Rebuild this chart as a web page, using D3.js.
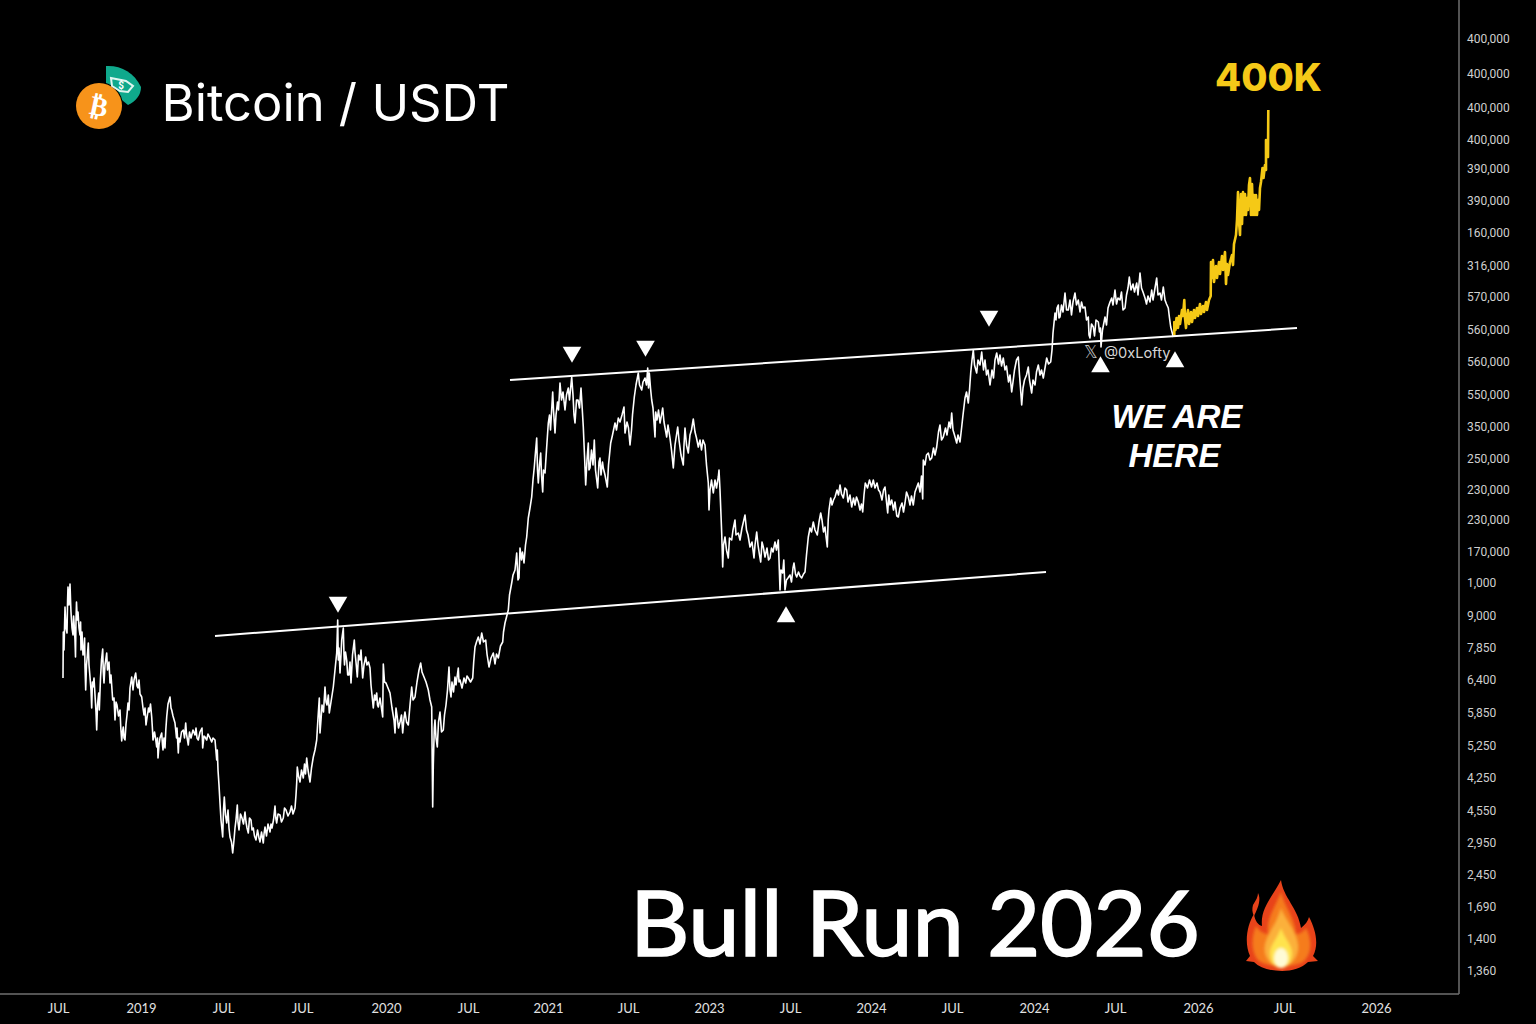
<!DOCTYPE html>
<html>
<head>
<meta charset="utf-8">
<script src="https://cdn.jsdelivr.net/npm/d3@7/dist/d3.min.js"></script>
<style>
html,body{margin:0;padding:0;background:#000;overflow:hidden}
svg{display:block}
</style>
</head>
<body>
<svg id="chart" width="1536" height="1024"></svg>
<script>
// Axis labels, exactly as printed on the picture
const yLabels = ["400,000","400,000","400,000","400,000","390,000","390,000","160,000","316,000","570,000","560,000","560,000","550,000","350,000","250,000","230,000","230,000","170,000","1,000","9,000","7,850","6,400","5,850","5,250","4,250","4,550","2,950","2,450","1,690","1,400","1,360"];
// Position of each label on the log-price index (0-1000)
const yLevels = [961,926,892.5,860,831,799,767,734,703,670.5,638,605.5,573,541,510,480,448,417,384.5,352,320,287,254.5,222,189.5,157.5,125,93,61,29];
const xLabels = ["JUL","2019","JUL","JUL","2020","JUL","2021","JUL","2023","JUL","2024","JUL","2024","JUL","2026","JUL","2026"];
// Position of each label in bars from the start of the time axis
const xBars = [8,91,173,252,336,418,498,578,659,740,821,902,984,1065,1148,1234,1326];

// Price path: [bar, log-price index]
const price2018 = [[13,322],[13.3,368],[14,350],[15,393],[16,372],[17,367],[17.6,400],[18,413],[19,395],[20,416],[20.6,398],[21,388],[22,372],[23,365],[23.6,384],[24,378],[25,360],[25.5,343],[26,380],[26.5,398],[27.3,380],[28,388],[29,372],[30,365],[30.6,378],[31,350],[32,368],[33,345],[34,350],[34.6,362],[35,333],[35.7,310],[36.5,335],[37.4,345],[38.3,357],[39,335],[40,323],[41,310],[41.7,292],[42.4,318],[43,313],[44,322],[45,305],[46,288],[46.7,270],[47.5,295],[48.7,307],[49.3,290],[50.5,322],[51.5,340],[52.7,351],[53.3,328],[54,317],[55,335],[56.7,347],[57.5,330],[59,338],[60,317],[61,325],[62.7,300],[64,302],[65,280],[66,298],[67,295],[68.5,284],[70,290],[70.8,272],[71.7,259],[72.5,268],[73.3,273],[74,262],[75,260],[76,276],[77,285],[78,297],[79,290],[80,312],[81.7,323],[83,310],[84,320],[85.7,327],[87,314],[88,312],[89,320],[90,306],[91.7,303],[93,292],[94,285],[95,292],[96,275],[97,282],[98.5,292],[99.3,288],[100.5,296],[101.7,283],[102.5,270],[103,260],[104.5,268],[105.5,262],[106.7,253],[107.5,262],[108,242],[109,255],[110,262],[111.7,267],[112.5,255],[113,250],[114,262],[115,252],[115.8,270],[116.7,283],[118,296],[120,303],[121,292],[121.7,290],[123,284],[125,277],[126.5,262],[127,272],[128.3,247],[129,262],[130,258],[131.5,268],[133.3,270],[134.5,262],[135.7,277],[136.5,266],[138.3,255],[139.5,268],[141,262],[143,270],[145,265],[146,272],[147,262],[148.3,260],[150,268],[152,272],[152.7,252],[154,264],[155,263],[156.7,260],[158,266],[160,262],[161.7,258],[163,262],[165,260]];
const price2019 = [[166.7,240],[167.3,250],[168,230],[169,215],[170,197],[171,180],[172.7,163],[173.5,190],[174.3,203],[175.5,185],[176.7,177],[178,190],[179,172],[180,163],[181.5,158],[182.7,147],[184,160],[185,172],[186,180],[187.3,195],[188,178],[189,170],[190.5,186],[192,182],[193.5,176],[195,188],[196,178],[197,172],[198.3,167],[199.5,182],[201,180],[202,170],[203.3,172],[204.5,164],[206,160],[207.5,170],[209,162],[210,158],[211.5,168],[213.3,157],[214,166],[215,173],[216.5,164],[218,176],[220,168],[221,176],[222,172],[223.5,180],[225,194],[225.8,182],[226.7,177],[228,186],[230,185],[231.5,178],[233.3,182],[234.5,192],[236,190],[238,184],[240,188],[241.5,194],[243,186],[245,192],[246,205],[246.7,217],[247.3,233],[248.5,224],[250,218],[251.5,230],[253.3,222],[254.5,236],[255.5,226],[256.7,242],[258,230],[260,218],[261.5,232],[263.3,243],[265,250],[266.7,260],[268,282],[269.3,302],[270,267],[271,280],[272,295],[273.5,288],[275,313],[276,298],[277,295],[278.3,305],[279.3,287],[281,298],[283.3,313],[285,330],[286.7,347],[287.7,380],[288.3,340],[289,352],[290,327],[291,345],[291.7,360],[293.3,372],[294,345],[294.5,335],[295.5,348],[296.7,340],[297.7,325],[299,325],[300,338],[301,317],[302.5,345],[304.3,360],[305,348],[306,338],[307.3,323],[308.5,345],[310,340],[311,350],[312.7,322],[314,335],[315.7,343],[317,335],[318.5,338],[320,332],[321,315],[323.3,292],[324.5,305],[325.5,300],[326.7,307],[327.5,295],[328.3,293],[330,302],[332.7,283],[333.3,336],[334.5,318],[336,317],[338,312],[340,307],[342,292],[344,280],[345,267],[346,292],[347,285],[348.5,272],[350,278],[351.5,285],[352.7,267],[354,282],[355,288],[356.5,278],[358.3,275],[360,295],[361.7,313],[363,300],[365,303],[367,318],[369,330],[370.7,337],[372,328],[374,323],[376,318],[378.3,310],[380,300],[381.7,293],[382.3,230],[382.7,193],[383.3,235],[383.7,250],[384.3,272],[385,280],[386,262],[387.3,253],[388.5,278],[390,288],[391.5,268],[393.3,270],[394.5,285],[396,295],[397.5,310],[399,333],[400,310],[401,303],[402,318],[403.5,308],[405,323],[406,315],[408.3,332],[409,318],[410,320],[412,312],[414,322],[415.7,317],[417,324],[418.3,322],[420.5,318],[422.7,322],[423.7,338],[425,353],[426.5,358],[428.3,363],[430,356],[431.7,367],[433.5,358],[435.7,360],[437,346],[439,333],[441,342],[443.3,347],[445,336],[446.5,346],[448.3,342],[450.5,354],[452.7,358],[453.5,368],[455,377]];
const price2021 = [[458.3,390],[459.5,405],[461.7,417],[463,425],[465,430],[466.7,447],[468,420],[469,422],[470,452],[471.5,440],[472.5,448],[474,437],[475.5,455],[476.7,463],[478.3,482],[480,492],[481.7,503],[483,520],[484.3,533],[485.5,548],[486.7,562],[487.5,530],[488.3,517],[489.5,535],[490.7,547],[491.5,525],[492.7,508],[493.5,530],[495,527],[496.5,550],[498.3,577],[499.5,585],[500.5,570],[502.7,608],[503.5,590],[505,567],[506,585],[507.5,598],[508.5,590],[510,617],[511.5,600],[513,608],[515,590],[516.5,605],[518.3,612],[519.5,600],[521.7,623],[523,605],[524,585],[525,577],[526.5,600],[528,600],[529.5,592],[531,612],[532,595],[533.3,573],[534.5,545],[535.7,515],[537,540],[538.3,557],[539,530],[540,532],[541.5,550],[543,535],[544.3,560],[545.5,530],[547.7,512],[549,538],[550,542],[551,525],[552.5,538],[553.3,532],[555,525],[557.3,513],[558.5,535],[560.7,557],[562.5,565],[565,577],[566.5,570],[568.3,582],[570,578],[572,585],[574,593],[575,567],[577,578],[578.5,572],[580,555],[581.5,570],[582.5,585],[584.3,603],[586,615],[588.3,627],[589.5,615],[591.7,610],[593,618],[595,622],[596.5,615],[597.7,632],[598.5,612],[599.3,627],[600.5,612],[601.7,600],[603,592],[605,563],[605.7,588],[607,580],[608.5,590],[610,577],[611.5,585],[612.7,592],[614,578],[616.7,563],[618,575],[620,562],[621.5,550],[623.3,532],[625,555],[627.7,573],[629,560],[631,545],[633.3,535],[634,555],[635,572],[636.5,555],[638.3,547],[640,565],[641.5,570],[643.3,581],[645,568],[646.5,562],[648.3,553],[650,560],[651.5,550],[653,560],[655,555],[656.5,535],[658.3,517],[659,490],[660,510],[661.5,520],[663.3,507],[665,520],[666.5,512],[668.3,523],[669,530],[670,510],[670.8,490],[671.7,467],[672.7,433],[673.5,455],[675,463],[676.5,450],[678.3,442],[679.5,462],[681.7,460],[683,470],[685,480],[686,465],[688.3,467],[690,460],[692,472],[695,485],[696.5,470],[698,465],[700,453],[702,458],[704,442],[705,455],[706.7,468],[708,455],[709.5,445],[710.7,438],[712,458],[713.3,453],[715,443],[717,452],[718.5,440],[720,442],[721.5,452],[723,448],[725,458],[726.5,450],[728.3,460],[729,440],[730,410],[731,430],[732.7,427],[733.8,440],[735,410],[736.5,420],[738,422],[740,425],[741.5,418],[743,432],[744,437],[745.5,426],[746.7,423],[748.5,428],[750,424],[751.7,422],[753.5,426],[755,428]];
const price2023 = [[756.5,445],[758.3,463],[760,472],[761.5,468],[763.3,478],[765,470],[767.3,465],[769,478],[770.7,487],[772,480],[773.5,468],[775,473],[776.2,462],[777.3,453],[778.2,480],[779,490],[780.7,502],[782,495],[783.5,500],[785,503],[787,510],[788.5,505],[790,515],[791.5,506],[793.3,502],[795,512],[796.7,510],[798,498],[800,505],[801.7,493],[803.5,502],[805,495],[806.5,503],[808.3,498],[810,490],[811.5,496],[812.7,488],[814,505],[815.3,517],[817.5,512],[819.5,520],[821.5,513],[823.3,520],[825,512],[827,517],[828.5,510],[830,508],[832,500],[833.5,510],[835,513],[836.3,500],[837.7,487],[838.8,505],[840,495],[841.7,500],[843.5,490],[845,498],[846.8,484],[848.3,483],[850,492],[852,497],[853.5,488],[855,497],[856.5,508],[858.3,503],[860,495],[861.5,504],[863.3,495],[865,508],[866.5,512],[868.3,517],[870,508],[871.5,524],[872.7,501],[873.3,540],[875,535],[876.5,545],[878.3,547],[880,540],[881.7,542],[883.5,552],[885,545],[886.7,553],[888.5,568],[890,575],[891.5,560],[893.3,563],[895.5,572],[897,565],[899,578],[900.5,572],[901.7,587],[903,570],[904.5,565],[906.7,557],[908,565],[910,558],[911.7,573],[913,585],[915,602],[916.5,608],[918.3,597],[919.5,610],[920.7,627],[922,640],[923.3,650],[924.5,635],[926.7,627],[928,640],[930,635],[931.7,648],[933.5,630],[935,640],[936.5,625],[938,630],[940,615],[942,630],[943.5,622],[945,640],[946.7,647],[948.5,636],[950,645],[951.5,634],[953.3,642],[955,630],[956.5,634],[958.5,618],[960,625],[961.7,608],[963,618],[964.5,630],[966.5,640],[968.3,643],[969.5,625],[970.5,612],[971.7,595],[973,612],[974.5,620],[976.5,625],[978.3,633],[979.5,620],[981.7,607],[983,620],[985,615],[986.5,628],[988.3,635],[990,625],[991.5,630],[993.3,622],[995,632],[996.7,642],[998.5,636],[1000.7,638],[1002,650],[1003,667],[1005,687]];
const price2024 = [[1006,680],[1007,692],[1008.3,695],[1009,682],[1010,683],[1011.5,695],[1013,688],[1015,707],[1016.5,690],[1018.3,690],[1020,700],[1021.5,685],[1023,698],[1025,707],[1026.5,695],[1028.3,700],[1030,688],[1031.5,698],[1033,692],[1035,693],[1036.5,680],[1038.3,683],[1039,665],[1040,662],[1041.5,676],[1043.3,673],[1044.5,664],[1046,680],[1048.3,678],[1049.5,668],[1050.5,672],[1051,653],[1052.5,670],[1055,683],[1056.5,675],[1058,692],[1060,698],[1061.7,702],[1063,695],[1065,710],[1066.5,696],[1068,702],[1070,700],[1071.5,708],[1073,690],[1075,692],[1076.5,705],[1078,712],[1079.3,723],[1081,710],[1083,716],[1084.5,708],[1086.7,717],[1088,705],[1090,727],[1091.5,712],[1093,708],[1095,702],[1096.5,696],[1098,704],[1100,698],[1101.7,710],[1103,700],[1105,712],[1106.7,722],[1108,705],[1110,707],[1111.5,700],[1113.3,713],[1115,700],[1116.5,696],[1118.3,692],[1119.5,682],[1120.7,673],[1122,668],[1123.3,663]];
// Projection drawn in yellow
const projection = [[1124.3,663],[1124.3,678],[1125.5,670],[1126.5,682],[1128,672],[1129,684],[1130,676],[1132,690],[1133,684],[1134.3,700],[1135,682],[1136,672],[1136.7,682],[1138,690],[1139,676],[1141,688],[1142,678],[1144,690],[1145,682],[1147,692],[1148,684],[1150,696],[1151,686],[1153,694],[1154,688],[1156,698],[1157,690],[1159,700],[1160.7,704],[1161,738],[1162,722],[1163,740],[1164,718],[1166,734],[1167,722],[1169,738],[1170,726],[1172,744],[1173,730],[1175,748],[1176,716],[1177,736],[1178,725],[1180,738],[1182,745],[1183,735],[1184,756],[1186,765],[1187,780],[1188,808],[1189,778],[1190,765],[1191,806],[1192,776],[1193,808],[1194,785],[1195,806],[1196,785],[1197,802],[1198,790],[1199,815],[1200,822],[1201,785],[1202,816],[1203,785],[1204,805],[1205,785],[1206,805],[1207,785],[1208,800],[1209,790],[1210,812],[1211,818],[1212.5,832],[1213.5,822],[1215,835],[1216,830],[1216,860],[1217,845],[1218,843],[1218.3,890]];
// Trend lines: start and end
const upperTrend = [[460,620],[1247,672]];
const lowerTrend = [[165,364],[996,428]];
// Markers: [bar, index]
const topMarkers = [[288,398],[522,648],[595.5,654],[939,684]];
const bottomMarkers = [[736,383],[1050.5,633],[1125,638]];

const W=1536,H=1024;
const x=d3.scaleLinear().domain([0,1409]).range([50,1459]);
const y=d3.scaleLinear().domain([0,1000]).range([1000,0]);
const svg=d3.select('#chart');
svg.append('rect').attr('width',W).attr('height',H).attr('fill','#000');

const defs=svg.append('defs');
defs.append('filter').attr('id','soft').append('feGaussianBlur').attr('stdDeviation',0.3);
defs.append('filter').attr('id','flameBlur').append('feGaussianBlur').attr('stdDeviation',1.6);

// axes
const axisY=d3.axisRight(y).tickValues(yLevels).tickSize(0).tickPadding(8)
  .tickFormat((d,i)=>yLabels[i]);
const gy=svg.append('g').attr('transform','translate(1459,0)').call(axisY);
gy.select('.domain').attr('stroke','#6f6f6f').attr('stroke-width',1.5).attr('d','M0,0V994');
gy.selectAll('text').attr('font-family','Roboto').attr('font-size',12).attr('fill','#cfcfcf').attr('dy','0.3em');

const axisX=d3.axisBottom(x).tickValues(xBars).tickSize(0).tickPadding(10)
  .tickFormat((d,i)=>xLabels[i]);
const gx=svg.append('g').attr('transform','translate(0,994)').call(axisX);
gx.select('.domain').attr('stroke','#6f6f6f').attr('stroke-width',1.5).attr('d','M0,0H1459');
gx.selectAll('text').attr('font-family','Lato').attr('font-size',13).attr('fill','#e2e2e2');

// price lines
const line=d3.line().x(d=>x(d[0])).y(d=>y(d[1]));
const whitePath=[...price2018,...price2019,...price2021,...price2023,...price2024];
const plot=svg.append('g').attr('filter','url(#soft)');
plot.append('path').datum(whitePath).attr('d',line).attr('fill','none').attr('stroke','#fff').attr('stroke-width',1.6).attr('stroke-linejoin','round');
plot.append('path').datum(projection).attr('d',line).attr('fill','none').attr('stroke','#f5c914').attr('stroke-width',2.6).attr('stroke-linejoin','round');

// trend lines
[upperTrend,lowerTrend].forEach(t=>{
  svg.append('path').datum(t).attr('d',line).attr('fill','none').attr('stroke','#fff').attr('stroke-width',2);
});

// markers
const tri=d3.symbol().type(d3.symbolTriangle).size(150);
svg.selectAll('path.tm').data(topMarkers).join('path').attr('class','tm').attr('d',tri)
  .attr('fill','#fff').attr('transform',d=>`translate(${x(d[0])},${y(d[1])}) rotate(180)`);
svg.selectAll('path.bm').data(bottomMarkers).join('path').attr('class','bm').attr('d',tri)
  .attr('fill','#fff').attr('transform',d=>`translate(${x(d[0])},${y(d[1])})`);

// annotation text
const txt=(s,px,py,fam,size,weight,fill,extra={})=>{
  const t=svg.append('text').text(s).attr('x',px).attr('y',py).attr('font-family',fam)
    .attr('font-size',size).attr('font-weight',weight).attr('fill',fill);
  Object.entries(extra).forEach(([k,v])=>t.attr(k,v));
  return t;
};
txt('Bitcoin / USDT',161.5,121,'Inter',50.7,400,'#fff');
txt('400K',1215,91,'Inter',38,800,'#f5c918');
txt('WE ARE',1111.5,428,'Liberation Sans',33,700,'#fff',{'font-style':'italic'});
txt('HERE',1128.5,467,'Liberation Sans',33,700,'#fff',{'font-style':'italic'});
txt('Bull Run 2026',630,956,'Lato',92,400,'#fff',{stroke:'#fff','stroke-width':1.6,'letter-spacing':-0.2});
txt('𝕏',1084,358,'DejaVu Sans',17,400,'#bdbdbd');
txt('@0xLofty',1104,358,'Inter',14.6,400,'#d5d5d5');

// coin logos
const logo=svg.append('g');
logo.append('path').attr('d','M106,66 C120,65 134,72 141,87 C141,95 136,101 128,105 L112,92 L106,83 Z').attr('fill','#0fa98c');
logo.append('circle').attr('cx',99).attr('cy',106).attr('r',24).attr('fill','#000');
logo.append('circle').attr('cx',99).attr('cy',106).attr('r',23).attr('fill','#f7931a');
logo.append('path').attr('d','M111,78 L126,81 L133,86 L128,92 L120,91 L112,86 Z').attr('fill','#0fa98c').attr('stroke','#dff5ef').attr('stroke-width',2);
logo.append('text').text('$').attr('x',121).attr('y',89).attr('text-anchor','middle')
  .attr('font-family','Roboto').attr('font-weight',700).attr('font-size',10).attr('fill','#fff');
logo.append('text').text('₿').attr('x',99).attr('y',115.5).attr('text-anchor','middle')
  .attr('font-family','DejaVu Sans').attr('font-weight',700).attr('font-size',27).attr('fill','#fff')
  .attr('transform','rotate(12 99 106)');

// flame emoji
const flame=svg.append('g');
flame.append('path').attr('d','M1253,905 C1256,900 1258,897 1258,893 C1261,899 1259,906 1254,916 C1252,912 1252,909 1253,905 Z').attr('fill','#e8431a');
flame.append('path').attr('d','M1281,880 C1283,897 1298,908 1301,928 C1305,925 1308,921 1309,917 C1316,930 1319,945 1313,956 L1318,961 L1308,962 C1302,968 1292,971 1282,971 C1270,971 1260,968 1254,962 L1246,961 L1250,956 C1244,943 1247,925 1254,914 C1255,921 1258,925 1262,926 C1260,908 1273,896 1281,880 Z').attr('fill','#e8431a');
const fg=flame.append('g').attr('filter','url(#flameBlur)');
fg.append('path').attr('d','M1281,892 C1284,906 1294,916 1296,934 C1300,934 1303,932 1306,928 C1312,940 1312,952 1305,960 C1298,968 1266,968 1258,960 C1250,950 1252,935 1256,926 C1260,932 1264,934 1268,934 C1266,918 1276,906 1281,892 Z').attr('fill','#f57c1f');
fg.append('path').attr('d','M1281,908 C1285,920 1296,930 1298,945 C1299,956 1292,966 1281,967 C1270,966 1263,956 1265,945 C1268,932 1278,922 1281,908 Z').attr('fill','#fbb03b');
fg.append('path').attr('d','M1281,928 C1284,938 1292,945 1292,953 C1292,962 1287,968 1281,968 C1275,968 1270,962 1270,953 C1270,945 1278,938 1281,928 Z').attr('fill','#ffe34d');
fg.append('ellipse').attr('cx',1281).attr('cy',958).attr('rx',7).attr('ry',10).attr('fill','#fffbd6');
</script>
</body>
</html>
